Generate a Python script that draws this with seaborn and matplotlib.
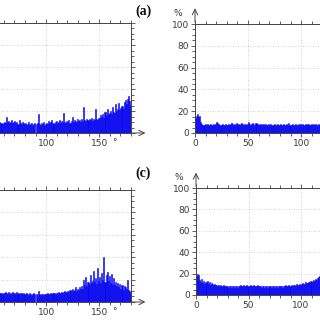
import numpy as np
import pandas as pd
import matplotlib
matplotlib.use("Agg")
import matplotlib.pyplot as plt
import seaborn as sns
from matplotlib.ticker import MultipleLocator

# angle bins, 1 degree each (0..179)
angles = list(range(180))

# (a) percent per degree bin
vals_a = [12, 10, 9, 11, 8, 9, 10, 8, 9, 11,
          9, 8, 10, 9, 12, 8, 9, 10, 8, 9,
          10, 9, 8, 11, 9, 10, 8, 9, 13, 9,
          8, 10, 9, 8, 9, 11, 8, 10, 9, 8,
          9, 10, 8, 9, 12, 9, 8, 10, 9, 8,
          10, 9, 8, 11, 9, 8, 10, 9, 8, 9,
          10, 9, 15, 10, 11, 9, 10, 12, 9, 10,
          11, 9, 10, 8, 12, 9, 8, 10, 9, 8,
          9, 7, 8, 10, 7, 8, 9, 7, 8, 9,
          8, 9, 17, 8, 7, 9, 8, 10, 7, 8,
          9, 8, 11, 9, 10, 12, 9, 8, 10, 11,
          9, 10, 12, 9, 11, 10, 18, 10, 9, 11,
          10, 12, 9, 11, 15, 10, 12, 11, 10, 13,
          11, 12, 10, 13, 11, 24, 12, 11, 13, 12,
          13, 12, 14, 11, 13, 12, 22, 13, 12, 14,
          14, 16, 15, 17, 14, 19, 16, 22, 17, 18,
          20, 17, 24, 19, 18, 26, 20, 22, 27, 21,
          23, 25, 22, 28, 30, 26, 31, 34, 29, 25]

# (b)
vals_b = [14, 16, 17, 15, 16, 10, 8, 7, 7, 8,
          7, 8, 7, 7, 8, 7, 7, 8, 7, 8,
          10, 9, 8, 7, 7, 8, 7, 7, 8, 7,
          7, 8, 7, 8, 9, 8, 7, 8, 7, 9,
          8, 7, 8, 9, 7, 8, 7, 8, 7, 8,
          10, 8, 7, 8, 9, 8, 7, 9, 8, 7,
          8, 7, 8, 7, 8, 7, 8, 7, 7, 8,
          7, 8, 7, 7, 8, 7, 7, 8, 7, 7,
          8, 7, 7, 8, 7, 7, 8, 7, 9, 7,
          7, 8, 7, 7, 8, 7, 7, 8, 7, 8,
          7, 8, 7, 7, 8, 7, 8, 7, 7, 8,
          7, 8, 7, 8, 7, 7, 8, 7, 8, 7,
          8, 7, 7, 8, 7, 8, 7, 7, 8, 7,
          7, 8, 7, 8, 7, 7, 8, 7, 8, 8,
          8, 7, 8, 8, 7, 8, 8, 7, 8, 8,
          8, 9, 8, 8, 9, 8, 9, 8, 9, 9,
          9, 10, 9, 10, 9, 10, 11, 10, 11, 12,
          11, 12, 13, 12, 14, 13, 15, 14, 16, 15]

# (c)
vals_c = [9, 8, 9, 7, 8, 9, 8, 7, 9, 8,
          8, 9, 8, 7, 8, 8, 9, 8, 7, 8,
          8, 7, 8, 9, 8, 7, 8, 8, 9, 8,
          7, 8, 8, 9, 8, 7, 8, 9, 8, 8,
          8, 9, 7, 8, 8, 9, 8, 7, 8, 8,
          9, 8, 8, 7, 8, 9, 8, 8, 7, 8,
          8, 9, 8, 7, 9, 8, 7, 8, 9, 8,
          8, 7, 9, 8, 7, 8, 8, 7, 8, 7,
          7, 8, 7, 6, 8, 7, 6, 7, 8, 7,
          7, 6, 10, 7, 6, 7, 7, 6, 7, 7,
          7, 8, 7, 7, 8, 7, 8, 8, 7, 8,
          8, 9, 8, 8, 9, 8, 9, 10, 9, 9,
          10, 9, 11, 10, 12, 10, 11, 13, 10, 12,
          11, 13, 12, 14, 12, 20, 15, 22, 14, 18,
          16, 24, 17, 19, 28, 18, 21, 16, 30, 19,
          22, 17, 26, 20, 40, 18, 24, 27, 19, 23,
          17, 25, 16, 21, 15, 18, 14, 17, 13, 16,
          12, 15, 11, 14, 13, 12, 20, 11, 10, 9]

# (d)
vals_d = [18, 20, 19, 14, 12, 15, 11, 13, 10, 12,
          13, 10, 12, 9, 11, 10, 9, 10, 9, 9,
          8, 9, 8, 9, 8, 8, 9, 8, 8, 8,
          7, 8, 8, 7, 8, 8, 7, 8, 8, 7,
          8, 8, 9, 8, 8, 9, 8, 8, 9, 8,
          8, 9, 8, 8, 9, 8, 8, 8, 9, 8,
          8, 8, 7, 8, 8, 7, 8, 8, 7, 8,
          8, 7, 8, 8, 7, 8, 8, 7, 8, 8,
          8, 8, 7, 8, 8, 9, 8, 8, 9, 8,
          9, 8, 9, 9, 8, 10, 9, 9, 10, 9,
          10, 11, 10, 10, 12, 11, 11, 12, 12, 13,
          12, 14, 13, 15, 14, 16, 17, 18, 19, 20,
          19, 18, 17, 16, 15, 14, 14, 13, 12, 12,
          11, 11, 10, 10, 10, 9, 9, 9, 9, 8,
          8, 8, 8, 9, 8, 8, 9, 8, 8, 9,
          9, 9, 10, 9, 10, 10, 11, 10, 11, 12,
          12, 13, 12, 14, 13, 15, 14, 16, 17, 18,
          17, 19, 18, 20, 19, 21, 20, 22, 21, 20]

x_ticks = [0, 50, 100, 150]
y_ticks = [0, 20, 40, 60, 80, 100]
# only the labels that fall inside the cropped view
x_labels_left = ["", "", "100", "150"]
x_labels_right = ["0", "50", "100", ""]

BLUE = "#0808f0"
TXT = "#3a3a3a"
GRID = "#c4c4c4"

sns.set_style("white")
plt.rcParams["font.family"] = ["DejaVu Sans"]

fig = plt.figure(figsize=(3.2, 3.2), dpi=100)


def panel(rect, vals, side):
    ax = fig.add_axes(rect)
    df = pd.DataFrame({"angle": angles, "pct": vals})
    sns.histplot(data=df, x="angle", weights="pct", binwidth=1, binrange=(0, 180),
                 color=BLUE, alpha=1.0, edgecolor=BLUE, linewidth=0.4, ax=ax)
    ax.set_xlim(0, 180)
    ax.set_ylim(0, 100)
    ax.set_xlabel("")
    ax.set_ylabel("")
    ax.set_xticks(x_ticks)
    ax.set_yticks(y_ticks)
    ax.xaxis.set_minor_locator(MultipleLocator(10))
    ax.yaxis.set_minor_locator(MultipleLocator(5))
    for g in x_ticks[1:]:
        ax.axvline(g, color=GRID, lw=0.6, ls=(0, (1, 2)), zorder=0)
    for g in y_ticks[1:-1]:
        ax.axhline(g, color=GRID, lw=0.6, ls=(0, (1, 2)), zorder=0)
    for s in ax.spines.values():
        s.set_color("#444444")
        s.set_linewidth(0.7)
    ax.tick_params(which="both", direction="out", colors="#444444",
                   labelcolor=TXT, labelsize=6.5, width=0.6, pad=1.5)
    ax.tick_params(which="major", length=3)
    ax.tick_params(which="minor", length=2)
    if side == "left":
        ax.set_xticklabels(x_labels_left)
        ax.tick_params(which="both", top=True, right=True, left=False,
                       labelleft=False, bottom=True)
        ax.spines["left"].set_visible(False)
        ax.annotate("", xy=(1.09, 0), xytext=(0.99, 0), xycoords="axes fraction",
                    arrowprops=dict(arrowstyle="->", color="#444444", lw=0.7),
                    annotation_clip=False)
        ax.annotate("°", xy=(150, 0), xycoords="data", xytext=(11, -4),
                    textcoords="offset points", ha="center", va="top",
                    fontsize=6.5, color=TXT)
    else:
        ax.set_xticklabels(x_labels_right)
        ax.tick_params(which="both", top=True, right=False, left=True,
                       labelleft=True, bottom=True)
        ax.spines["right"].set_visible(False)
        ax.annotate("", xy=(0, 1.17), xytext=(0, 0.99), xycoords="axes fraction",
                    arrowprops=dict(arrowstyle="->", color="#444444", lw=0.7),
                    annotation_clip=False)
        ax.text(-0.07, 1.1, "%", transform=ax.transAxes, ha="right",
                va="center", fontsize=6.5, color=TXT)
    return ax


W = 191 / 320
panel([-60 / 320, 187 / 320, W, 110 / 320], vals_a, "left")
panel([195 / 320, 187 / 320, W, 109 / 320], vals_b, "right")
panel([-60 / 320, 18 / 320, W, 112 / 320], vals_c, "left")
panel([196 / 320, 25 / 320, 189 / 320, 107 / 320], vals_d, "right")

fig.text(143 / 320, 1 - 11 / 320, "(a)", ha="center", va="center",
         fontsize=10, fontweight="bold", family="Liberation Serif", color="#111111")
fig.text(143 / 320, 1 - 173 / 320, "(c)", ha="center", va="center",
         fontsize=10, fontweight="bold", family="Liberation Serif", color="#111111")

fig.savefig("out.png", dpi=100)
